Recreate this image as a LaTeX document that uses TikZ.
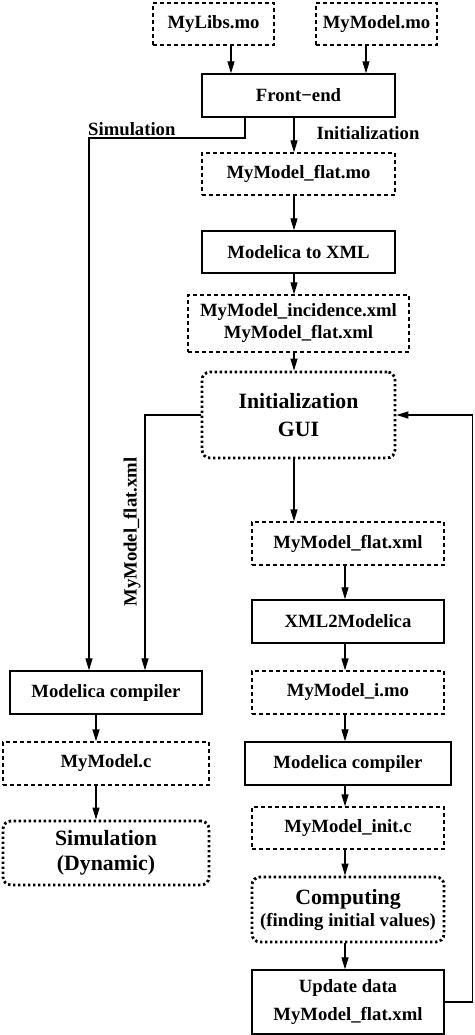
\documentclass[tikz,border=0pt]{standalone}
\usepackage{fontspec}
\setmainfont{Liberation Serif}
\usetikzlibrary{arrows.meta}
\begin{document}
\begin{tikzpicture}[x=1pt,y=-1pt,
  every node/.style={font=\fontsize{18.7}{22}\selectfont\bfseries, align=center, inner sep=0pt},
  proc/.style={draw, line width=1.3pt, minimum height=43pt},
  file/.style={draw, line width=1.2pt, dash pattern=on 4pt off 3pt, minimum height=43pt},
  act/.style={draw, line width=2.8pt, dash pattern=on 2.4pt off 2.6pt, rounded corners=8pt},
  big/.style={font=\fontsize{21.8}{28}\selectfont\bfseries},
  arr/.style={-{Triangle[length=12pt,width=7pt]}, line width=1.2pt},
]
\useasboundingbox (0,0) rectangle (474,1035);

% center column
\node[file, minimum width=121pt, minimum height=42pt] (libs) at (213.5,24) {MyLibs.mo};
\node[file, minimum width=121pt, minimum height=42pt] (model) at (376.5,24) {MyModel.mo};
\node[proc, minimum width=193pt] (fe) at (298.5,95.5) {Front−end};
\node[file, minimum width=193pt, minimum height=42pt] (flatmo) at (298.5,174) {MyModel\_flat.mo};
\node[proc, minimum width=193pt, minimum height=42pt] (m2x) at (298.5,252) {Modelica to XML};
\node[file, minimum width=221pt, minimum height=57pt] (inc) at (298.5,323.5) {MyModel\_incidence.xml\\MyModel\_flat.xml};
\node[act, big, minimum width=193pt, minimum height=86pt] (gui) at (298.5,415) {Initialization\\GUI};

% right column
\node[file, minimum width=192pt] (flatxml) at (348,543.5) {MyModel\_flat.xml};
\node[proc, minimum width=192pt] (x2m) at (348,621.5) {XML2Modelica};
\node[file, minimum width=192pt] (imo) at (348,692.5) {MyModel\_i.mo};
\node[proc, minimum width=206pt] (mc2) at (348,763.5) {Modelica compiler};
\node[file, minimum width=192pt, minimum height=42pt] (initc) at (348,828) {MyModel\_init.c};
\node[act, minimum width=192pt, minimum height=65pt] (comp) at (348,909.5) {{\fontsize{21.8}{26}\selectfont Computing}\\(finding initial values)};
\node[proc, minimum width=192pt, minimum height=64pt] (upd) at (348,1002) {Update data\\[6pt]MyModel\_flat.xml};

% left column
\node[proc, minimum width=192pt] (mc1) at (106,692.5) {Modelica compiler};
\node[file, minimum width=206pt] (mc) at (106,763.5) {MyModel.c};
\node[act, minimum width=206pt, minimum height=64pt, font=\fontsize{21.8}{25}\selectfont\bfseries] (sim) at (106,853) {Simulation\\(Dynamic)};

% labels
\node[anchor=south west] (lsim) at (88,136) {Simulation};
\node (linit) at (368,133) {Initialization};
\node[rotate=90] (lxml) at (132,532) {MyModel\_flat.xml};

% connectors
\draw[arr] (231,0 |- libs.south) -- (231,0 |- fe.north);
\draw[arr] (366,0 |- model.south) -- (366,0 |- fe.north);
\draw[arr] (294,0 |- fe.south) -- (294,0 |- flatmo.north);
\draw[arr] (245,0 |- fe.south) -- (245,138) -| (89,0 |- mc1.north);
\draw[arr] (294,0 |- flatmo.south) -- (294,0 |- m2x.north);
\draw[arr] (294,0 |- m2x.south) -- (294,0 |- inc.north);
\draw[arr] (294,0 |- inc.south) -- (294,0 |- gui.north);
\draw[arr] (gui.west) -| (145,0 |- mc1.north);
\draw[arr] (294,0 |- gui.south) -- (294,0 |- flatxml.north);
\draw[arr] (345,0 |- flatxml.south) -- (345,0 |- x2m.north);
\draw[arr] (345,0 |- x2m.south) -- (345,0 |- imo.north);
\draw[arr] (345,0 |- imo.south) -- (345,0 |- mc2.north);
\draw[arr] (345,0 |- mc2.south) -- (345,0 |- initc.north);
\draw[arr] (345,0 |- initc.south) -- (345,0 |- comp.north);
\draw[arr] (345,0 |- comp.south) -- (345,0 |- upd.north);
\draw[arr] (96,0 |- mc1.south) -- (96,0 |- mc.north);
\draw[arr] (96,0 |- mc.south) -- (96,0 |- sim.north);
\draw[arr] (upd.east) -- (472.5,0 |- upd.east) |- (gui.east);
\end{tikzpicture}
\end{document}
